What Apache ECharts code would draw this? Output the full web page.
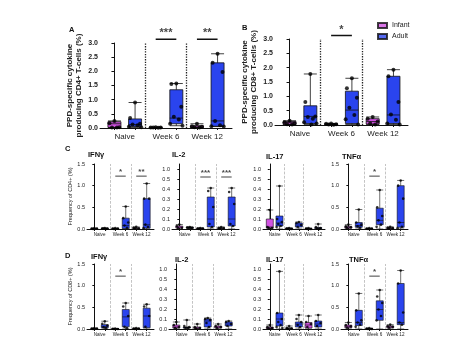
<!DOCTYPE html>
<html>
<head>
<meta charset="utf-8">
<script src="https://cdn.jsdelivr.net/npm/echarts@6/dist/echarts.min.js"></script>
<style>
  html, body { margin: 0; padding: 0; background: #fff; }
  #chart { width: 474px; height: 352px; }
</style>
</head>
<body>
<div id="chart"></div>
<script>
// x groups; each group has an infant bar then an adult bar
const GROUPS = ['Naive', 'Week 6', 'Week 12'];

// box stats [min, q1, median, q3, max], order: Naive inf, Naive ad, W6 inf, W6 ad, W12 inf, W12 ad
const A_BOX = [[0.02, 0.02, 0.15, 0.22, 0.25], [0.02, 0.05, 0.12, 0.32, 0.9], [0.01, 0.01, 0.02, 0.03, 0.03],
  [0.08, 0.15, 0.35, 1.35, 1.57], [0.02, 0.02, 0.03, 0.08, 0.15], [0.05, 0.06, 0.25, 2.3, 2.62]];
const A_PTS = [[0.25, 0.17, 0.03, 0.02, 0.02], [0.9, 0.35, 0.15, 0.12, 0.1, 0.04, 0.03], [0.03, 0.02, 0.02, 0.02, 0.01],
  [1.57, 1.55, 0.75, 0.4, 0.3, 0.15, 0.08], [0.15, 0.06, 0.04, 0.03, 0.02], [2.62, 2.3, 1.98, 0.25, 0.1, 0.06, 0.05]];
const A_SIG = [[2, 3, 3.13, '***'], [4, 5, 3.13, '**']];

const B_BOX = [[0.02, 0.02, 0.08, 0.12, 0.15], [0.02, 0.05, 0.3, 0.67, 1.78], [0.01, 0.02, 0.03, 0.04, 0.05],
  [0.02, 0.05, 0.52, 1.18, 1.63], [0.02, 0.03, 0.12, 0.22, 0.28], [0.02, 0.05, 0.35, 1.7, 1.93]];
const B_PTS = [[0.15, 0.1, 0.05, 0.03, 0.02], [1.78, 0.8, 0.3, 0.28, 0.22, 0.1, 0.05, 0.02], [0.05, 0.04, 0.03, 0.02, 0.01],
  [1.63, 1.28, 0.95, 0.6, 0.35, 0.2, 0.02], [0.28, 0.22, 0.12, 0.05, 0.02], [1.93, 1.7, 0.8, 0.37, 0.18, 0.05, 0.02]];
const B_SIG = [[2, 3, 3.12, '*']];

const C_IFN_BOX = [[0, 0, 0.01, 0.01, 0.02], [0, 0, 0.01, 0.02, 0.02], [0, 0, 0.01, 0.01, 0.02],
  [0, 0.01, 0.08, 0.25, 0.52], [0, 0.01, 0.02, 0.03, 0.05], [0, 0.02, 0.1, 0.7, 1.05]];
const C_IFN_PTS = [[0.02, 0.01, 0.01, 0], [0.02, 0.01, 0.01, 0.01, 0], [0.02, 0.01, 0.01, 0],
  [0.52, 0.25, 0.15, 0.08, 0.03], [0.05, 0.03, 0.01, 0.01], [1.05, 0.7, 0.7, 0.1, 0.05, 0.02]];
const C_IFN_SIG = [[2, 3, 1.22, '*'], [4, 5, 1.22, '**']];

const C_IL2_BOX = [[0, 0.01, 0.02, 0.03, 0.045], [0, 0.01, 0.01, 0.02, 0.02], [0, 0, 0.005, 0.01, 0.01],
  [0, 0.02, 0.1, 0.32, 0.41], [0, 0.005, 0.01, 0.01, 0.02], [0, 0.03, 0.1, 0.32, 0.41]];
const C_IL2_PTS = [[0.045, 0.03, 0.01, 0.01], [0.02, 0.015, 0.01, 0.01, 0.01], [0.01, 0.005, 0.005, 0],
  [0.41, 0.38, 0.22, 0.05, 0.02], [0.02, 0.01, 0.01, 0.005], [0.41, 0.37, 0.25, 0.05, 0.03]];
const C_IL2_SIG = [[2, 3, 0.6, '***'], [4, 5, 0.6, '***']];

const C_IL17_BOX = [[0, 0.01, 0.02, 0.1, 0.19], [0, 0.03, 0.06, 0.13, 0.43], [0, 0, 0.005, 0.01, 0.01],
  [0, 0.02, 0.04, 0.06, 0.07], [0, 0, 0.003, 0.005, 0.01], [0, 0.005, 0.01, 0.015, 0.05]];
const C_IL17_PTS = [[0.19, 0.02, 0.01, 0.01], [0.43, 0.1, 0.07, 0.05, 0.03, 0.02], [0.01, 0.005, 0, 0],
  [0.07, 0.06, 0.04, 0.02], [0.01, 0.005, 0, 0], [0.05, 0.02, 0.01, 0.005, 0]];

const C_TNF_BOX = [[0, 0.02, 0.04, 0.06, 0.1], [0, 0.04, 0.08, 0.15, 0.45], [0, 0, 0.01, 0.01, 0.02],
  [0, 0.1, 0.2, 0.48, 0.9], [0, 0.01, 0.02, 0.03, 0.05], [0, 0.04, 0.15, 1.0, 1.12]];
const C_TNF_PTS = [[0.1, 0.06, 0.04, 0.02], [0.45, 0.15, 0.1, 0.06, 0.03], [0.02, 0.01, 0.01, 0],
  [0.9, 0.5, 0.3, 0.2, 0.1, 0.05], [0.05, 0.03, 0.02, 0.01], [1.12, 1.0, 0.7, 0.15, 0.05, 0.02]];
const C_TNF_SIG = [[2, 3, 1.22, '*']];

const D_IFN_BOX = [[0, 0, 0.01, 0.01, 0.02], [0, 0.03, 0.06, 0.1, 0.18], [0, 0, 0.005, 0.01, 0.01],
  [0, 0.05, 0.28, 0.45, 0.6], [0, 0, 0.01, 0.01, 0.02], [0, 0.03, 0.3, 0.48, 0.57]];
const D_IFN_PTS = [[0.02, 0.01, 0.01, 0], [0.18, 0.12, 0.08, 0.04, 0.02], [0.01, 0.005, 0, 0],
  [0.6, 0.52, 0.3, 0.05, 0.02], [0.02, 0.01, 0.01, 0], [0.57, 0.52, 0.3, 0.05]];
const D_IFN_SIG = [[2, 3, 1.22, '*']];

const D_IL2_BOX = [[0, 0.01, 0.02, 0.04, 0.07], [0, 0.01, 0.015, 0.02, 0.09], [0, 0.005, 0.01, 0.02, 0.05],
  [0, 0.02, 0.08, 0.1, 0.11], [0, 0.01, 0.02, 0.03, 0.05], [0, 0.03, 0.05, 0.07, 0.08]];
const D_IL2_PTS = [[0.07, 0.04, 0.02, 0.01], [0.09, 0.03, 0.02, 0.01, 0.01], [0.05, 0.02, 0.01, 0.005],
  [0.11, 0.1, 0.09, 0.06, 0.02], [0.05, 0.03, 0.02, 0.01], [0.08, 0.07, 0.05, 0.03]];

const D_IL17_BOX = [[0, 0.005, 0.01, 0.02, 0.04], [0, 0.03, 0.1, 0.16, 0.88], [0, 0.005, 0.01, 0.01, 0.03],
  [0, 0.02, 0.05, 0.07, 0.14], [0, 0.01, 0.04, 0.065, 0.13], [0, 0.02, 0.05, 0.08, 0.14]];
const D_IL17_PTS = [[0.04, 0.02, 0.01, 0.005], [0.88, 0.16, 0.1, 0.07, 0.04, 0.02, 0.01], [0.03, 0.01, 0.005, 0],
  [0.14, 0.1, 0.07, 0.04, 0.02], [0.13, 0.07, 0.05, 0.02], [0.14, 0.08, 0.06, 0.03]];

const D_TNF_BOX = [[0, 0.03, 0.06, 0.09, 0.15], [0, 0.08, 0.15, 0.43, 0.82], [0, 0, 0.01, 0.01, 0.02],
  [0, 0.2, 0.45, 0.65, 0.9], [0, 0.03, 0.05, 0.07, 0.1], [0, 0.1, 0.15, 1.05, 1.35]];
const D_TNF_PTS = [[0.15, 0.09, 0.06, 0.03], [0.82, 0.43, 0.2, 0.15, 0.1, 0.05], [0.02, 0.01, 0, 0],
  [0.9, 0.75, 0.6, 0.45, 0.3, 0.2], [0.1, 0.07, 0.05, 0.03], [1.35, 1.05, 0.38, 0.15, 0.1]];
const D_TNF_SIG = [[2, 3, 1.22, '*']];

// broken axis (IL-2, IL-17): 0-0.5 linear, then 1.0 and 1.5 squeezed on top
const BROKEN_TICKS = [0, 0.1, 0.2, 0.3, 0.4, 0.5, 1.0, 1.5];
function squash(v) {
  if (v <= 0.5) return v;
  if (v <= 1) return 0.5 + (v - 0.5) * 0.2;
  return 0.6 + (v - 1) * 0.1;
}
function unsquash(d) {
  if (d <= 0.5 + 1e-9) return d;
  if (d <= 0.6 + 1e-9) return 0.5 + (d - 0.5) / 0.2;
  return 1 + (d - 0.6) / 0.1;
}

const INFANT = '#d152e2';
const ADULT = '#2a44ee';
const FONT = 'Liberation Sans, Arial, sans-serif';
const JITTER = [0, -0.24, 0.24, -0.12, 0.12, -0.3, 0.3, 0.05];

const PANELS = [
  { box: A_BOX, pts: A_PTS, sig: A_SIG, max: 3, rect: [100, 43, 132, 85], big: true,
    yName: 'PPD-specific cytokine\nproducing CD4+ T-cells (%)' },
  { box: B_BOX, pts: B_PTS, sig: B_SIG, max: 3, rect: [275, 39, 133, 86], big: true,
    yName: 'PPD-specific cytokine\nproducing CD8+ T-cells (%)' },
  { box: C_IFN_BOX, pts: C_IFN_PTS, sig: C_IFN_SIG, max: 1.5, rect: [87, 164, 67, 65], yName: 'Frequency of CD4+ (%)' },
  { box: C_IL2_BOX, pts: C_IL2_PTS, sig: C_IL2_SIG, broken: true, rect: [172, 164, 67, 65] },
  { box: C_IL17_BOX, pts: C_IL17_PTS, broken: true, rect: [263, 164, 62, 65] },
  { box: C_TNF_BOX, pts: C_TNF_PTS, sig: C_TNF_SIG, max: 1.5, rect: [341, 164, 67, 65] },
  { box: D_IFN_BOX, pts: D_IFN_PTS, sig: D_IFN_SIG, max: 1.5, rect: [87, 264, 67, 65], yName: 'Frequency of CD8+ (%)' },
  { box: D_IL2_BOX, pts: D_IL2_PTS, broken: true, rect: [169, 264, 67, 65] },
  { box: D_IL17_BOX, pts: D_IL17_PTS, broken: true, rect: [263, 264, 62, 65] },
  { box: D_TNF_BOX, pts: D_TNF_PTS, sig: D_TNF_SIG, max: 1.5, rect: [341, 264, 67, 65] }
];

const grid = [], xAxis = [], yAxis = [], series = [];

PANELS.forEach((p, i) => {
  const big = !!p.big;
  const f = p.broken ? squash : (v => v);
  grid.push({ left: p.rect[0], top: p.rect[1], width: p.rect[2], height: p.rect[3] });

  xAxis.push({
    gridIndex: i, type: 'value', min: -0.7, max: 5.7, splitLine: { show: false },
    axisLine: { lineStyle: { color: '#111', width: 1 } },
    axisTick: { customValues: [0, 1, 2, 3, 4, 5], length: 2, lineStyle: { color: '#111' } },
    axisLabel: {
      customValues: [0.5, 2.5, 4.5], formatter: v => GROUPS[Math.round((v - 0.5) / 2)],
      fontSize: big ? 8 : 4.6, margin: big ? 5 : 3, color: '#222', fontFamily: FONT
    }
  });

  const y = {
    gridIndex: i, type: 'value', min: 0, max: p.broken ? squash(1.5) : p.max, splitLine: { show: false },
    axisLine: { show: true, lineStyle: { color: '#111', width: 1 } },
    axisTick: { show: true, length: big ? 3 : 2, lineStyle: { color: '#111' } },
    axisLabel: { fontSize: big ? 7 : 5.5, margin: 2, color: '#222', fontFamily: FONT, fontWeight: big ? 'bold' : 'normal' }
  };
  if (p.broken) {
    const cv = BROKEN_TICKS.map(squash);
    y.axisTick.customValues = cv;
    y.axisLabel.customValues = cv;
    y.axisLabel.formatter = d => unsquash(d).toFixed(1);
  } else {
    y.interval = 0.5;
    y.axisLabel.formatter = v => v.toFixed(1);
  }
  if (p.yName) {
    Object.assign(y, {
      name: p.yName, nameLocation: 'middle', nameRotate: 90, nameGap: big ? 17 : 12,
      nameTextStyle: { fontSize: big ? 8 : 5.5, fontWeight: big ? 'bold' : 'normal', color: '#222',
        fontFamily: FONT, lineHeight: big ? 9 : 6 }
    });
  }
  yAxis.push(y);

  series.push({
    type: 'boxplot', xAxisIndex: i, yAxisIndex: i, silent: true, layout: 'horizontal',
    boxWidth: big ? [13, 13] : [7, 7],
    data: p.box.map((b, k) => ({
      value: [k].concat(b.map(f)),
      itemStyle: { color: k % 2 ? ADULT : INFANT, borderColor: '#111', borderWidth: big ? 0.8 : 0.6 }
    }))
  });

  const pts = [];
  p.pts.forEach((arr, k) => arr.forEach((v, j) => pts.push([k + JITTER[j % JITTER.length], f(v)])));
  series.push({
    type: 'scatter', xAxisIndex: i, yAxisIndex: i, silent: true, z: 5, data: pts,
    symbolSize: big ? 4 : 2.6, itemStyle: { color: '#000' },
    markLine: {
      silent: true, symbol: 'none', label: { show: false },
      lineStyle: big ? { type: 'dotted', color: '#222', width: 1.3 } : { type: 'dashed', color: '#aaa', width: 0.7 },
      data: [{ xAxis: 1.5 }, { xAxis: 3.5 }]
    }
  });

  (p.sig || []).forEach(s => {
    series.push({
      type: 'line', xAxisIndex: i, yAxisIndex: i, clip: false, symbol: 'none', silent: true,
      lineStyle: { color: '#111', width: big ? 1.5 : 0.8 },
      data: [[s[0], f(s[2])], [s[1], f(s[2])]]
    });
    series.push({
      type: 'scatter', xAxisIndex: i, yAxisIndex: i, clip: false, silent: true, symbolSize: 1,
      itemStyle: { color: 'rgba(0,0,0,0)' }, data: [[(s[0] + s[1]) / 2, f(s[2])]],
      label: { show: true, position: 'top', distance: 0, formatter: s[3], fontSize: big ? 11 : 8,
        fontWeight: 'bold', color: '#111', fontFamily: FONT }
    });
  });
});

// legend entries (panel B)
series.push({ name: 'Infant', type: 'scatter', xAxisIndex: 1, yAxisIndex: 1, data: [],
  itemStyle: { color: INFANT, borderColor: '#111', borderWidth: 0.6 } });
series.push({ name: 'Adult', type: 'scatter', xAxisIndex: 1, yAxisIndex: 1, data: [],
  itemStyle: { color: ADULT, borderColor: '#111', borderWidth: 0.6 } });

const LETTERS = [['A', 64, 21], ['B', 237, 19], ['C', 60, 140], ['D', 60, 247]];
const SUBTITLES = [['IFNγ', 83, 146], ['IL-2', 167, 146], ['IL-17', 261, 148], ['TNFα', 337, 148],
  ['IFNγ', 86, 248], ['IL-2', 170, 251], ['IL-17', 261, 251], ['TNFα', 344, 251]];

const title = LETTERS.map(t => ({ text: t[0], left: t[1], top: t[2],
  textStyle: { fontSize: 7.5, fontWeight: 'bold', color: '#111', fontFamily: FONT } }))
  .concat(SUBTITLES.map(t => ({ text: t[0], left: t[1], top: t[2],
    textStyle: { fontSize: 7.5, fontWeight: 'bold', color: '#111', fontFamily: FONT } })));

const chart = echarts.init(document.getElementById('chart'), null, { renderer: 'canvas' });
chart.setOption({
  animation: false,
  backgroundColor: '#fff',
  title,
  legend: {
    left: 372, top: 17, orient: 'vertical', itemGap: 4, itemWidth: 9, itemHeight: 5, icon: 'rect',
    textStyle: { fontSize: 7, color: '#222', fontFamily: FONT }, data: ['Infant', 'Adult']
  },
  grid, xAxis, yAxis, series
});
</script>
</body>
</html>
